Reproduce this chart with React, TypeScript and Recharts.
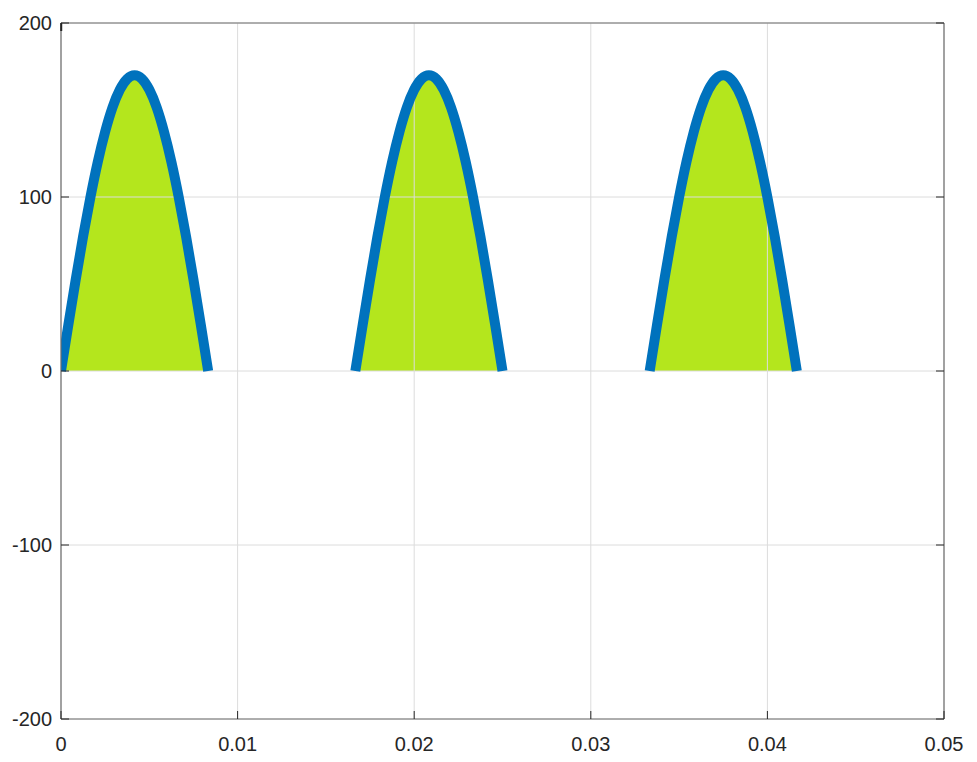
import { ComposedChart, Area, Line, XAxis, YAxis, CartesianGrid } from 'recharts';

// one positive half-cycle (seconds from the start of the cycle, volts)
const halfCycleOffsets = [
  0, 0.000417, 0.000833, 0.00125, 0.001667, 0.002083, 0.0025, 0.002917, 0.003333, 0.00375,
  0.004167, 0.004583, 0.005, 0.005417, 0.005833, 0.00625, 0.006667, 0.007083, 0.0075, 0.007917,
  0.008333,
];
const halfCycleValues = [
  0, 26.6, 52.5, 77.2, 99.9, 120.2, 137.5, 151.5, 161.7, 167.9, 170, 167.9, 161.7, 151.5, 137.5,
  120.2, 99.9, 77.2, 52.5, 26.6, 0,
];
const cycleStarts = [0, 0.016667, 0.033333];
// a point inside each blocked half-cycle, where nothing is drawn
const gapTimes = [0.0125, 0.029167];

const xTicks = [0, 0.01, 0.02, 0.03, 0.04, 0.05];
const yTicks = [-200, -100, 0, 100, 200];

interface Row {
  t: number;
  v: number | null;
}

function buildRows(): Row[] {
  const rows: Row[] = [];
  cycleStarts.forEach((start, i) => {
    halfCycleOffsets.forEach((off, j) => rows.push({ t: start + off, v: halfCycleValues[j] }));
    if (i < gapTimes.length) rows.push({ t: gapTimes[i], v: null });
  });
  return rows;
}

const INK = '#262626';
const FONT = '"Liberation Sans", Arial, Helvetica, sans-serif';
const TICK_LEN = 8;

interface TickProps {
  x?: number;
  y?: number;
  payload?: { value: number };
}

function BottomTick({ x = 0, y = 0, payload }: TickProps) {
  return (
    <g>
      <line x1={x} x2={x} y1={y} y2={y - TICK_LEN} stroke={INK} />
      <text x={x} y={y + 32} textAnchor="middle" fontSize={20} fontFamily={FONT} fill={INK}>
        {String(payload?.value)}
      </text>
    </g>
  );
}

function TopTick({ x = 0, y = 0 }: TickProps) {
  return <line x1={x} x2={x} y1={y} y2={y + TICK_LEN} stroke={INK} />;
}

function LeftTick({ x = 0, y = 0, payload }: TickProps) {
  return (
    <g>
      <line x1={x} x2={x + TICK_LEN} y1={y} y2={y} stroke={INK} />
      <text x={x - 9} y={y + 7} textAnchor="end" fontSize={20} fontFamily={FONT} fill={INK}>
        {String(payload?.value)}
      </text>
    </g>
  );
}

function RightTick({ x = 0, y = 0 }: TickProps) {
  return <line x1={x} x2={x - TICK_LEN} y1={y} y2={y} stroke={INK} />;
}

export default function App() {
  const rows = buildRows();
  const axisLine = { stroke: '#6e6e6e', strokeWidth: 1.2 };

  return (
    <ComposedChart width={961} height={746} data={rows} margin={{ top: 14, right: 24, bottom: 0, left: 0 }}>
      <XAxis
        dataKey="t"
        type="number"
        domain={[0, 0.05]}
        ticks={xTicks}
        interval={0}
        height={35}
        tickSize={0}
        tickMargin={0}
        tickLine={false}
        axisLine={axisLine}
        tick={<BottomTick />}
        allowDataOverflow
      />
      <XAxis
        xAxisId="top"
        orientation="top"
        type="number"
        domain={[0, 0.05]}
        ticks={xTicks}
        interval={0}
        height={1}
        tickSize={0}
        tickMargin={0}
        tickLine={false}
        axisLine={axisLine}
        tick={<TopTick />}
        allowDataOverflow
      />
      <YAxis
        type="number"
        domain={[-200, 200]}
        ticks={yTicks}
        interval={0}
        width={53}
        tickSize={0}
        tickMargin={0}
        tickLine={false}
        axisLine={axisLine}
        tick={<LeftTick />}
        allowDataOverflow
      />
      <YAxis
        yAxisId="right"
        orientation="right"
        type="number"
        domain={[-200, 200]}
        ticks={yTicks}
        interval={0}
        width={1}
        tickSize={0}
        tickMargin={0}
        tickLine={false}
        axisLine={axisLine}
        tick={<RightTick />}
        allowDataOverflow
      />
      <Area
        type="natural"
        dataKey="v"
        baseValue={0}
        fill="#b4e61d"
        fillOpacity={1}
        stroke="none"
        connectNulls={false}
        isAnimationActive={false}
      />
      <CartesianGrid stroke="#dcdcdc" zIndex={150} />
      <Line
        type="natural"
        dataKey="v"
        stroke="#0072bd"
        strokeWidth={10}
        dot={false}
        activeDot={false}
        connectNulls={false}
        isAnimationActive={false}
      />
    </ComposedChart>
  );
}
